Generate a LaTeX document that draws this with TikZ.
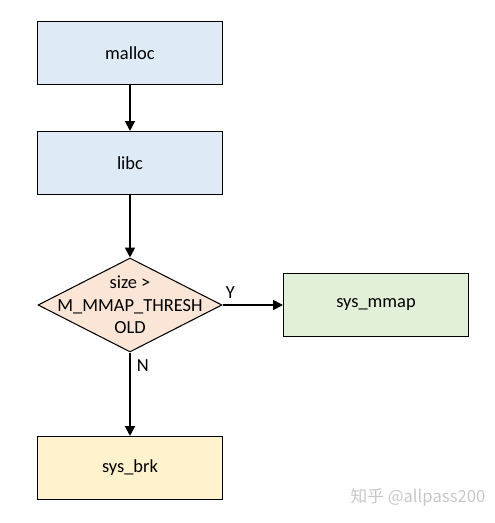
\documentclass[tikz,border=0pt]{standalone}
\usepackage{fontspec}
\setmainfont{Carlito}
\newfontfamily\cjkfont{Noto Sans CJK SC}
\usetikzlibrary{
    arrows.meta,
    shapes.geometric,
}
\definecolor{callblue}{HTML}{DEEBF7}
\definecolor{testpeach}{HTML}{FBE5D6}
\definecolor{mmapgreen}{HTML}{E2F0D9}
\definecolor{brkyellow}{HTML}{FFF2CC}

\begin{document}
\begin{tikzpicture}[
        step box/.style={rectangle, draw=black, line width=0.6pt, minimum width=3.7cm, minimum height=1.26cm, font=\fontsize{10.5}{12}\selectfont},
        decision/.style={diamond, draw=black, fill=testpeach, line width=0.6pt, minimum width=3.68cm, minimum height=1.88cm, inner sep=0pt},
        decisiontext/.style={align=center, font=\fontsize{10.5}{12.9}\selectfont},
        flow/.style={-{Triangle[width=5.6pt,length=5.6pt]}, line width=1.1pt},
        branch/.style={font=\fontsize{10.5}{12}\selectfont}
        ]
        \useasboundingbox (0,0) rectangle (9.88,-10.46);
        \node[step box, fill=callblue]   (MALLOC) at (2.6,-1.06)                        {malloc};
        \node[step box, fill=callblue]   (LIBC)   [below of=MALLOC, node distance=2.2cm] {libc};
        \node[decision]                  (SIZE)   [below of=LIBC, node distance=2.84cm]  {};
        \node[decisiontext]              (SIZET)  at (SIZE)                              {size >\\M\_MMAP\_THRESH\\OLD};
        \node[step box, fill=mmapgreen]  (MMAP)   [right of=SIZE, node distance=4.92cm]  {sys\_mmap};
        \node[step box, fill=brkyellow]  (BRK)    [below of=SIZE, node distance=3.26cm]  {sys\_brk};
        \draw[flow] (MALLOC) -- (LIBC);
        \draw[flow] (LIBC) -- (SIZE);
        \draw[flow] (SIZE) -- node[branch, pos=0.13, above] {Y} (MMAP);
        \draw[flow] (SIZE) -- node[branch, pos=0.16, right] {N} (BRK);
        \node[text=black!22, font=\cjkfont\fontsize{9.5}{11}\selectfont] (MARK) at (8.36,-9.94) {知乎 @allpass200};
    \end{tikzpicture}
\end{document}
